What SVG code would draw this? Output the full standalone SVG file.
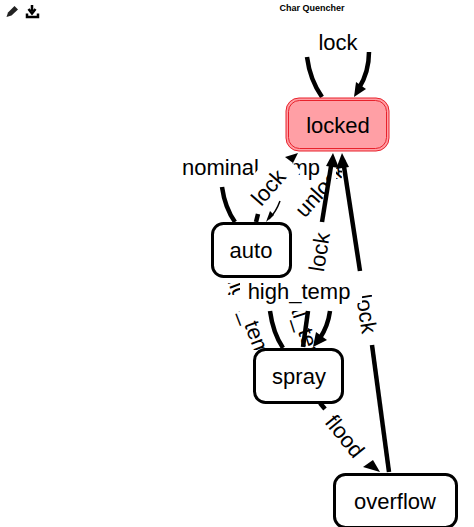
<svg xmlns="http://www.w3.org/2000/svg" width="474" height="527" viewBox="0 0 474 527">
<defs>
<style>
text{font-family:"Liberation Sans",Arial,sans-serif;fill:#000}
.l{font-size:22px;text-anchor:middle}
.n{fill:#fff;stroke:#000;stroke-width:3}
.e{fill:none;stroke:#000;stroke-width:4.500}
.a{fill:#000}
.m{fill:#fff}
</style>
<clipPath id="cu"><path d="M290 160H333L322 226H290ZM336 166H342V179H336Z"/></clipPath>
<clipPath id="ch"><path d="M222 283H240V295H222ZM232 311H275V350H232Z"/></clipPath>
<clipPath id="cn"><path d="M285 311H330V350H285Z"/></clipPath>
<clipPath id="cr"><path d="M350 303H385V340H350ZM362 295H372V303H362Z"/></clipPath>
</defs>
<rect width="474" height="527" fill="#fff"/>
<text x="312" y="11" font-size="9" font-weight="700" text-anchor="middle">Char Quencher</text>
<g id="toolbar">
<path d="M6.500 17L8 12.500L14.500 6L18 9.500L11.500 15.500Z" fill="#222"/>
<path d="M32 5V11M28.500 9L32 13.500L35.500 9" fill="none" stroke="#000" stroke-width="2.500"/>
<path d="M27 13.500V17H38V13.500" fill="none" stroke="#000" stroke-width="2.500"/>
</g>
<g id="labels-under">
<text class="l" x="251" y="175">nominal_temp</text>
<g transform="translate(268 187) rotate(-49)"><rect class="m" x="-34" y="-19" width="68" height="34"/><text class="l" y="8">lock</text></g>
<g clip-path="url(#cu)"><text class="l" transform="translate(326 195) rotate(-48)">unlock</text></g>
<g clip-path="url(#ch)"><text class="l" transform="translate(243 322) rotate(69)">high_temp</text></g>
<g clip-path="url(#cn)"><text class="l" transform="translate(291.500 312) rotate(72)">nominal_temp</text></g>
</g>
<g id="connectors">
<path class="e" d="M322 97Q310 80 307 57"/>
<path class="e" d="M369 52Q369 72 359 88"/>
<path class="a" d="M354 97L356 82L366 89Z"/>
<path class="e" d="M222 187Q225 208 235 222"/>
<path class="e" style="stroke-width:1.500" d="M280 201Q276 212 269 219"/>
<path class="a" d="M266 222L270 211L274 215Z"/>
<path class="e" d="M256 222L258 214"/>
<path class="a" d="M298 153L285 157L293 163Z"/>
<path class="e" d="M322 222L332 160"/>
<path class="a" d="M333 153L339 168L326 166Z"/>
<path class="e" d="M303 347L308 311"/>
<path class="e" d="M343 160L360 271"/>
<path class="e" d="M389 472L372 345"/>
<path class="a" d="M342 153L349 167L336 169Z"/>
<path class="e" d="M270 311Q273 333 283 348"/>
<path class="e" d="M330 311Q328 326 320 338"/>
<path class="a" d="M313 347L316 332L327 340Z"/>
<path class="e" d="M320 403L325 409"/>
<path class="a" d="M380 472L363 467L373 460Z"/>
</g>
<g id="labels">
<text class="l" x="338" y="50">lock</text>
<text class="l" transform="translate(319 252) rotate(-81)" y="8">lock</text>
<g clip-path="url(#cr)"><text class="l" transform="translate(359 315) rotate(81)">lock</text></g>
<text class="l" x="299" y="299">high_temp</text>
<text class="l" transform="translate(339 441) rotate(51)">flood</text>
</g>
<g id="node-locked">
<rect x="286" y="98" width="103" height="53" rx="13" fill="#ff9fa5" stroke="#e8222c" stroke-width="1"/>
<rect x="288.500" y="100.500" width="98" height="48" rx="11" fill="none" stroke="#e8222c" stroke-width="1"/>
<text class="l" x="338" y="133">locked</text>
</g>
<g id="node-auto">
<rect class="n" x="212.500" y="223.500" width="78" height="53" rx="11"/>
<text class="l" x="251" y="258">auto</text>
</g>
<g id="node-spray">
<rect class="n" x="254.500" y="349.500" width="88" height="53" rx="11"/>
<text class="l" x="299" y="384">spray</text>
</g>
<g id="node-overflow">
<rect class="n" x="334.500" y="474.500" width="122" height="53" rx="11"/>
<text class="l" x="395" y="509">overflow</text>
</g>
</svg>
